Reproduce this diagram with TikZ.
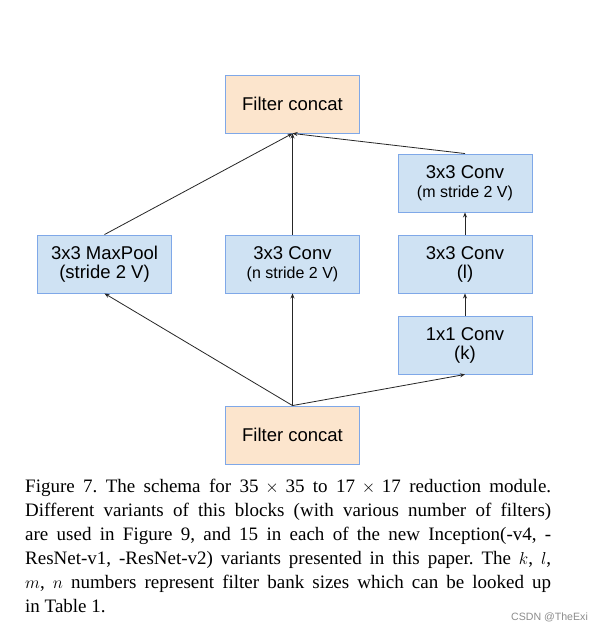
\documentclass[tikz,border=0pt]{standalone}
\usepackage{fontspec}
\setmainfont{Liberation Serif}
\newfontfamily\arialfont{Liberation Sans}
\usetikzlibrary{arrows.meta}
\definecolor{boxblue}{HTML}{CFE2F3}
\definecolor{boxedge}{HTML}{7FA8E8}
\definecolor{boxorange}{HTML}{FCE5CD}
\begin{document}
\begin{tikzpicture}[x=1pt,y=1pt,
  blk/.style={draw=boxedge, line width=0.9pt, minimum width=134pt, minimum height=58pt,
    inner sep=0pt, align=center, font=\arialfont\fontsize{18.5}{19}\selectfont},
  conv/.style={blk, fill=boxblue},
  cat/.style={blk, fill=boxorange},
  arr/.style={draw=black!85, line width=0.8pt, -{Stealth[length=5pt,width=4pt]}}]
\useasboundingbox[fill=white] (0,0) rectangle (596,-631);

\node[cat]  (top)  at (292.5,-104) {Filter concat};
\node[conv] (pool) at (104.5,-264) {3x3 MaxPool\\(stride 2 V)};
\node[conv] (mid)  at (292.5,-264) {3x3 Conv\\{\fontsize{16}{17}\selectfont (n stride 2 V)}};
\node[conv] (r3)   at (465,-183)   {3x3 Conv\\{\fontsize{16}{17}\selectfont (m stride 2 V)}};
\node[conv] (r2)   at (465,-264)   {3x3 Conv\\(l)};
\node[conv] (r1)   at (465,-345)   {1x1 Conv\\(k)};
\node[cat]  (bot)  at (292.5,-435) {Filter concat};

\draw[arr] (pool.north) -- (top.south);
\draw[arr] (mid.north) -- (top.south);
\draw[arr] (r3.north) -- (top.south);
\draw[arr] (r2.north) -- (r3.south);
\draw[arr] (r1.north) -- (r2.south);
\draw[arr] (bot.north) -- (pool.south);
\draw[arr] (bot.north) -- (mid.south);
\draw[arr] (bot.north) -- (r1.south);

\node[anchor=north west, inner sep=0pt, text width=526pt, align=justify,
  font=\fontsize{19}{24}\selectfont] (cap) at (25,-479.3)
{\hyphenpenalty=10000\frenchspacing Figure 7. The schema for 35${}\times{}$35 to 17${}\times{}$17 reduction module.\linebreak
Different variants of this blocks (with various number of filters)\linebreak
are used in Figure 9, and 15 in each of the new Inception(-v4, -\linebreak
ResNet-v1, -ResNet-v2) variants presented in this paper. The $k$, $l$,\linebreak
$m$, $n$ numbers represent filter bank sizes which can be looked up\linebreak
in Table 1.};

\node[font=\arialfont\fontsize{10.6}{12}\selectfont, text=black!45, inner sep=0pt] (wm) at (549.5,-617) {CSDN @TheExi};
\end{tikzpicture}
\end{document}
